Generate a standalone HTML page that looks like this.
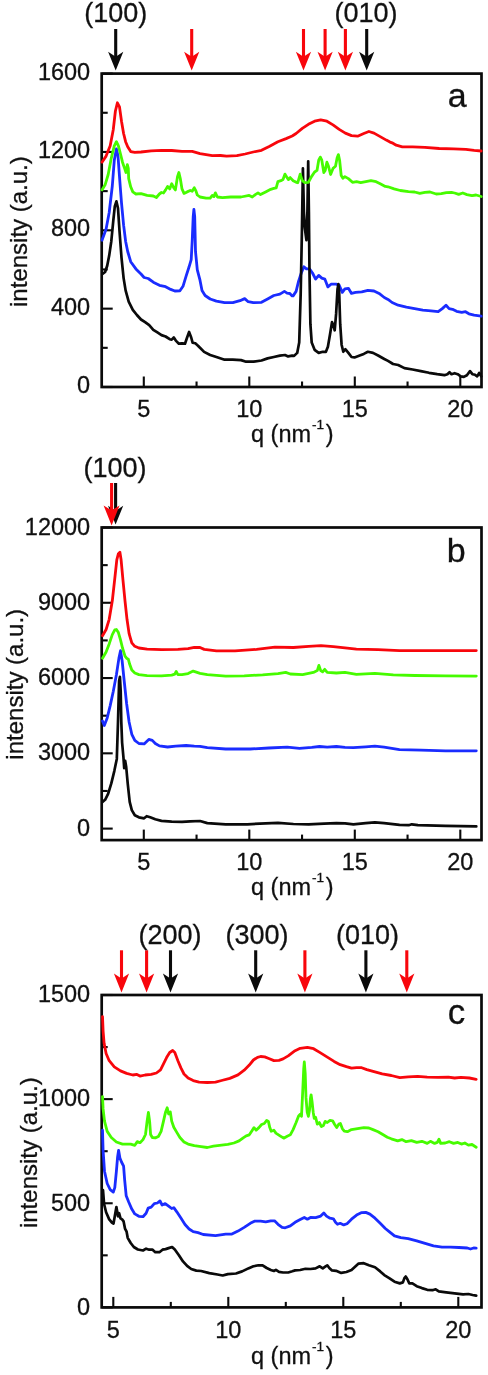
<!DOCTYPE html>
<html><head><meta charset="utf-8"><title>Figure</title>
<style>html,body{margin:0;padding:0;background:#fff}svg{display:block}text{font-family:"Liberation Sans",sans-serif}</style></head><body>
<svg width="488" height="1375" viewBox="0 0 488 1375">
<rect width="488" height="1375" fill="#ffffff"/>
<line x1="143.8" y1="387.0" x2="143.8" y2="376.5" stroke="#0a0a0a" stroke-width="2.1"/>
<text x="143.8" y="416.6" font-size="23.5" text-anchor="middle"  fill="#111" stroke="#111" stroke-width="0.3" >5</text>
<line x1="249.3" y1="387.0" x2="249.3" y2="376.5" stroke="#0a0a0a" stroke-width="2.1"/>
<text x="249.3" y="416.6" font-size="23.5" text-anchor="middle"  fill="#111" stroke="#111" stroke-width="0.3" >10</text>
<line x1="354.8" y1="387.0" x2="354.8" y2="376.5" stroke="#0a0a0a" stroke-width="2.1"/>
<text x="354.8" y="416.6" font-size="23.5" text-anchor="middle"  fill="#111" stroke="#111" stroke-width="0.3" >15</text>
<line x1="460.30000000000007" y1="387.0" x2="460.30000000000007" y2="376.5" stroke="#0a0a0a" stroke-width="2.1"/>
<text x="460.30000000000007" y="416.6" font-size="23.5" text-anchor="middle"  fill="#111" stroke="#111" stroke-width="0.3" >20</text>
<line x1="196.55" y1="387.0" x2="196.55" y2="381.5" stroke="#0a0a0a" stroke-width="2.1"/>
<line x1="302.05" y1="387.0" x2="302.05" y2="381.5" stroke="#0a0a0a" stroke-width="2.1"/>
<line x1="407.55000000000007" y1="387.0" x2="407.55000000000007" y2="381.5" stroke="#0a0a0a" stroke-width="2.1"/>
<line x1="101.7" y1="387.0" x2="112.7" y2="387.0" stroke="#0a0a0a" stroke-width="2.1"/>
<text x="90.2" y="393.1" font-size="23.5" text-anchor="end"  fill="#111" stroke="#111" stroke-width="0.3" >0</text>
<line x1="101.7" y1="308.65" x2="112.7" y2="308.65" stroke="#0a0a0a" stroke-width="2.1"/>
<text x="90.2" y="314.75" font-size="23.5" text-anchor="end"  fill="#111" stroke="#111" stroke-width="0.3" >400</text>
<line x1="101.7" y1="230.3" x2="112.7" y2="230.3" stroke="#0a0a0a" stroke-width="2.1"/>
<text x="90.2" y="236.4" font-size="23.5" text-anchor="end"  fill="#111" stroke="#111" stroke-width="0.3" >800</text>
<line x1="101.7" y1="151.95" x2="112.7" y2="151.95" stroke="#0a0a0a" stroke-width="2.1"/>
<text x="90.2" y="158.04999999999998" font-size="23.5" text-anchor="end"  fill="#111" stroke="#111" stroke-width="0.3" >1200</text>
<line x1="101.7" y1="73.60000000000002" x2="112.7" y2="73.60000000000002" stroke="#0a0a0a" stroke-width="2.1"/>
<text x="90.2" y="79.70000000000002" font-size="23.5" text-anchor="end"  fill="#111" stroke="#111" stroke-width="0.3" >1600</text>
<line x1="101.7" y1="347.825" x2="107.7" y2="347.825" stroke="#0a0a0a" stroke-width="2.1"/>
<line x1="101.7" y1="269.475" x2="107.7" y2="269.475" stroke="#0a0a0a" stroke-width="2.1"/>
<line x1="101.7" y1="191.125" x2="107.7" y2="191.125" stroke="#0a0a0a" stroke-width="2.1"/>
<line x1="101.7" y1="112.77500000000003" x2="107.7" y2="112.77500000000003" stroke="#0a0a0a" stroke-width="2.1"/>
<text x="251" y="441.8" font-size="23.5"  fill="#111" stroke="#111" stroke-width="0.3">q (nm<tspan font-size="13.6" dy="-13.3" dx="1">-1</tspan><tspan dy="13.3" dx="1.5">)</tspan></text>
<text transform="translate(27.3,231.6) rotate(-90)" font-size="24" text-anchor="middle"  fill="#111" stroke="#111" stroke-width="0.3">intensity (a.u.)</text>
<rect x="101.7" y="73.6" width="379.8" height="313.4" fill="none" stroke="#0a0a0a" stroke-width="2.7"/>
<polyline points="102.0,240.2 106.1,228.9 109.2,212.5 112.3,186.0 114.3,160.2 116.4,148.9 118.0,156.0 119.5,176.6 120.5,190.0 121.5,202.8 123.6,225.2 125.6,241.2 127.7,251.5 130.7,261.7 135.9,268.9 141.0,274.0 144.1,277.5 148.2,278.5 153.3,282.2 159.4,285.3 165.6,286.7 170.7,289.4 174.8,291.0 179.9,290.8 183.0,286.3 186.1,276.1 189.1,266.8 191.2,259.7 192.2,241.2 193.2,216.6 193.9,209.5 194.7,216.6 195.5,251.5 197.3,269.9 200.0,280.2 202.0,290.4 205.1,295.5 210.2,299.0 216.4,301.1 224.6,302.7 232.8,302.7 240.0,300.7 244.7,298.6 248.2,301.7 253.3,302.7 261.5,302.3 267.6,299.0 273.8,295.5 279.9,294.1 284.4,291.4 287.1,293.1 289.8,293.5 292.2,295.9 293.1,295.9 296.1,291.4 298.6,281.1 301.3,273.0 303.9,266.8 306.4,268.9 309.5,268.9 312.5,273.0 315.6,279.1 318.7,275.4 321.8,278.1 324.8,279.1 327.9,286.9 331.0,284.2 336.1,284.2 339.2,285.2 342.3,292.4 344.9,288.9 348.4,288.3 351.5,293.4 355.6,292.4 361.7,291.8 367.9,290.4 374.0,291.0 379.1,293.4 384.3,297.5 388.0,299.4 392.1,302.5 398.2,305.2 406.4,307.2 414.6,308.6 422.8,310.1 431.0,310.9 438.2,311.7 442.3,308.6 446.0,305.2 449.1,308.6 452.5,309.3 456.6,311.3 461.8,312.3 465.5,311.7 468.9,313.8 474.1,315.2 481.2,316.2" fill="none" stroke="#1a2cff" stroke-width="2.8" stroke-linejoin="round" stroke-linecap="round"/>
<polyline points="102.5,274.0 105.1,272.0 107.2,265.8 109.2,255.6 111.3,241.2 113.3,220.7 114.8,206.4 116.4,201.3 118.0,208.4 119.5,231.0 121.5,257.6 123.6,278.1 125.6,290.4 128.7,301.7 132.8,309.9 136.9,315.0 141.0,319.5 145.1,322.2 149.2,325.2 153.3,329.8 157.4,332.4 161.5,335.1 165.6,336.5 169.7,339.2 171.7,339.6 173.8,337.5 175.8,340.6 178.9,343.7 182.0,343.3 185.0,343.7 187.1,337.5 189.1,332.0 191.2,337.5 192.6,342.7 195.3,343.3 198.0,345.7 200.0,347.8 204.1,351.9 210.2,355.0 216.4,357.0 224.6,359.7 232.8,359.7 241.0,360.1 246.1,361.7 253.3,361.7 261.5,360.5 267.6,358.4 273.8,357.0 279.9,355.6 285.0,355.0 288.1,356.4 292.2,355.6 294.1,355.9 297.2,352.9 299.2,342.6 300.7,293.4 301.9,232.0 302.9,168.4 303.9,211.5 304.8,227.9 306.4,240.2 307.4,211.5 308.2,161.3 308.9,211.5 309.5,273.0 310.4,324.2 311.7,342.6 314.6,349.8 318.7,352.9 322.8,351.8 325.9,351.8 327.9,346.7 330.0,334.4 332.0,322.1 333.4,325.2 334.7,330.3 336.1,313.9 337.5,289.3 338.4,284.2 339.2,293.4 340.2,324.2 341.6,344.7 343.3,351.8 345.3,349.2 348.4,352.9 351.5,357.0 354.5,357.4 359.7,355.5 363.8,353.9 367.9,351.8 373.0,352.9 378.1,355.5 384.3,359.0 388.0,360.9 393.1,364.0 398.2,365.0 404.4,368.1 412.6,369.5 420.8,371.1 429.0,372.8 437.2,374.2 444.4,375.2 447.4,374.2 449.5,372.2 451.5,374.2 454.6,373.2 457.7,374.2 460.7,376.3 463.8,376.9 466.9,375.2 470.0,371.1 472.4,374.2 475.1,374.8 477.2,376.3 479.2,372.8 481.2,376.3" fill="none" stroke="#0a0a0a" stroke-width="2.7" stroke-linejoin="round" stroke-linecap="round"/>
<polyline points="102.0,189.9 105.1,184.8 108.2,174.5 111.3,158.1 114.3,145.8 116.4,141.7 118.4,145.8 120.5,154.0 122.5,162.2 124.6,168.4 126.0,172.5 127.3,164.7 128.3,168.4 128.7,178.6 130.7,186.8 132.8,191.9 135.9,194.0 141.0,193.6 147.1,195.4 153.3,196.0 156.4,197.5 159.4,194.0 161.5,192.5 163.5,193.0 165.6,189.9 167.6,186.4 169.7,188.9 171.7,183.7 173.8,187.8 175.4,189.9 177.5,176.6 178.9,172.5 180.3,178.6 182.0,188.9 184.0,193.4 187.1,191.9 190.2,190.5 192.2,191.3 194.3,187.8 195.9,190.9 197.3,195.0 200.0,197.0 206.1,198.1 210.2,198.1 212.3,195.4 213.9,196.6 215.4,192.9 217.4,197.0 222.5,197.7 230.7,197.0 241.0,197.0 249.2,195.4 252.3,197.0 255.3,194.6 258.0,192.9 260.5,194.6 265.6,191.9 270.7,189.3 273.8,188.4 276.2,187.8 277.9,181.7 280.9,180.7 283.0,179.6 285.0,174.1 287.1,177.6 288.5,179.6 290.2,177.6 293.2,180.7 296.3,182.3 297.8,182.7 300.2,174.1 302.3,180.7 304.8,182.7 308.4,182.3 311.5,176.6 314.6,172.0 317.0,170.4 318.7,160.2 320.3,157.1 321.8,160.2 323.8,172.5 325.2,170.4 326.9,162.2 328.5,166.3 330.6,174.5 333.0,168.4 335.5,166.3 337.1,158.1 338.4,154.6 339.6,160.2 341.2,175.5 342.9,178.2 344.9,176.6 348.4,178.6 352.5,182.3 356.6,181.7 360.7,182.7 365.8,181.7 370.9,180.7 376.1,181.7 380.2,183.7 385.3,186.4 388.0,186.8 394.1,188.9 400.3,190.5 408.5,191.6 414.6,192.0 419.8,193.4 424.9,192.4 430.0,192.0 436.2,194.0 441.3,193.6 446.4,192.6 451.5,192.4 454.6,193.0 458.7,194.4 462.8,193.0 466.9,194.6 472.0,195.7 476.1,195.0 481.2,196.5" fill="none" stroke="#46fb00" stroke-width="2.8" stroke-linejoin="round" stroke-linecap="round"/>
<polyline points="102.0,162.2 106.1,156.1 110.2,145.8 113.3,129.4 115.4,111.0 117.4,102.8 119.5,106.9 121.5,121.2 123.6,133.5 125.6,141.7 127.7,146.8 130.7,151.6 134.8,152.4 141.0,152.0 151.2,150.9 161.5,150.3 171.7,150.5 182.0,151.4 192.2,151.4 200.0,153.6 206.1,154.6 212.3,155.7 220.5,155.5 226.6,156.1 236.9,155.7 245.1,154.0 253.3,152.0 261.5,150.3 269.7,146.2 277.9,141.7 286.1,138.6 292.2,136.0 296.1,133.5 302.3,128.4 308.4,124.3 314.6,121.2 320.7,119.8 326.9,121.2 333.0,124.9 339.2,129.4 345.3,133.1 351.5,135.6 357.6,136.2 363.8,133.5 368.9,131.5 374.0,133.1 380.2,136.6 386.3,140.1 390.0,142.1 392.1,142.8 396.2,145.2 402.3,146.9 412.6,146.9 424.9,147.3 439.2,148.5 453.6,148.9 465.9,149.3 474.1,150.4 481.2,151.0" fill="none" stroke="#f8060c" stroke-width="2.8" stroke-linejoin="round" stroke-linecap="round"/>
<line x1="115.7" y1="29" x2="115.7" y2="57.8" stroke="#0a0a0a" stroke-width="3.1"/>
<path d="M115.7,70.6 L108.10000000000001,51.8 L115.7,56.8 L123.3,51.8 Z" fill="#0a0a0a"/>
<line x1="191.7" y1="29" x2="191.7" y2="57.8" stroke="#f8060c" stroke-width="3.1"/>
<path d="M191.7,70.6 L184.1,51.8 L191.7,56.8 L199.29999999999998,51.8 Z" fill="#f8060c"/>
<line x1="303.5" y1="29" x2="303.5" y2="57.8" stroke="#f8060c" stroke-width="3.1"/>
<path d="M303.5,70.6 L295.9,51.8 L303.5,56.8 L311.1,51.8 Z" fill="#f8060c"/>
<line x1="325.1" y1="29" x2="325.1" y2="57.8" stroke="#f8060c" stroke-width="3.1"/>
<path d="M325.1,70.6 L317.5,51.8 L325.1,56.8 L332.70000000000005,51.8 Z" fill="#f8060c"/>
<line x1="345.4" y1="29" x2="345.4" y2="57.8" stroke="#f8060c" stroke-width="3.1"/>
<path d="M345.4,70.6 L337.79999999999995,51.8 L345.4,56.8 L353.0,51.8 Z" fill="#f8060c"/>
<line x1="366.7" y1="29" x2="366.7" y2="57.8" stroke="#0a0a0a" stroke-width="3.1"/>
<path d="M366.7,70.6 L359.09999999999997,51.8 L366.7,56.8 L374.3,51.8 Z" fill="#0a0a0a"/>
<text x="115.7" y="21.8" font-size="27" text-anchor="middle"  fill="#111" stroke="#111" stroke-width="0.3" >(100)</text>
<text x="366" y="21.8" font-size="27" text-anchor="middle"  fill="#111" stroke="#111" stroke-width="0.3" >(010)</text>
<text x="447.8" y="107.3" font-size="34" text-anchor="start"  fill="#111" stroke="#111" stroke-width="0.3" >a</text>
<line x1="143.8" y1="840.1" x2="143.8" y2="829.6" stroke="#0a0a0a" stroke-width="2.1"/>
<text x="143.8" y="870.1" font-size="23.5" text-anchor="middle"  fill="#111" stroke="#111" stroke-width="0.3" >5</text>
<line x1="249.3" y1="840.1" x2="249.3" y2="829.6" stroke="#0a0a0a" stroke-width="2.1"/>
<text x="249.3" y="870.1" font-size="23.5" text-anchor="middle"  fill="#111" stroke="#111" stroke-width="0.3" >10</text>
<line x1="354.8" y1="840.1" x2="354.8" y2="829.6" stroke="#0a0a0a" stroke-width="2.1"/>
<text x="354.8" y="870.1" font-size="23.5" text-anchor="middle"  fill="#111" stroke="#111" stroke-width="0.3" >15</text>
<line x1="460.30000000000007" y1="840.1" x2="460.30000000000007" y2="829.6" stroke="#0a0a0a" stroke-width="2.1"/>
<text x="460.30000000000007" y="870.1" font-size="23.5" text-anchor="middle"  fill="#111" stroke="#111" stroke-width="0.3" >20</text>
<line x1="196.55" y1="840.1" x2="196.55" y2="834.6" stroke="#0a0a0a" stroke-width="2.1"/>
<line x1="302.05" y1="840.1" x2="302.05" y2="834.6" stroke="#0a0a0a" stroke-width="2.1"/>
<line x1="407.55000000000007" y1="840.1" x2="407.55000000000007" y2="834.6" stroke="#0a0a0a" stroke-width="2.1"/>
<line x1="101.7" y1="828.6" x2="112.7" y2="828.6" stroke="#0a0a0a" stroke-width="2.1"/>
<text x="90.2" y="835.6" font-size="23.5" text-anchor="end"  fill="#111" stroke="#111" stroke-width="0.3" >0</text>
<line x1="101.7" y1="753.325" x2="112.7" y2="753.325" stroke="#0a0a0a" stroke-width="2.1"/>
<text x="90.2" y="760.325" font-size="23.5" text-anchor="end"  fill="#111" stroke="#111" stroke-width="0.3" >3000</text>
<line x1="101.7" y1="678.05" x2="112.7" y2="678.05" stroke="#0a0a0a" stroke-width="2.1"/>
<text x="90.2" y="685.05" font-size="23.5" text-anchor="end"  fill="#111" stroke="#111" stroke-width="0.3" >6000</text>
<line x1="101.7" y1="602.7750000000001" x2="112.7" y2="602.7750000000001" stroke="#0a0a0a" stroke-width="2.1"/>
<text x="90.2" y="609.7750000000001" font-size="23.5" text-anchor="end"  fill="#111" stroke="#111" stroke-width="0.3" >9000</text>
<line x1="101.7" y1="527.5" x2="112.7" y2="527.5" stroke="#0a0a0a" stroke-width="2.1"/>
<text x="90.2" y="534.5" font-size="23.5" text-anchor="end"  fill="#111" stroke="#111" stroke-width="0.3" >12000</text>
<line x1="101.7" y1="790.9625" x2="107.7" y2="790.9625" stroke="#0a0a0a" stroke-width="2.1"/>
<line x1="101.7" y1="715.6875" x2="107.7" y2="715.6875" stroke="#0a0a0a" stroke-width="2.1"/>
<line x1="101.7" y1="640.4125" x2="107.7" y2="640.4125" stroke="#0a0a0a" stroke-width="2.1"/>
<line x1="101.7" y1="565.1375" x2="107.7" y2="565.1375" stroke="#0a0a0a" stroke-width="2.1"/>
<text x="251" y="895.1" font-size="23.5"  fill="#111" stroke="#111" stroke-width="0.3">q (nm<tspan font-size="13.6" dy="-13.3" dx="1">-1</tspan><tspan dy="13.3" dx="1.5">)</tspan></text>
<text transform="translate(22.7,684.3) rotate(-90)" font-size="24" text-anchor="middle"  fill="#111" stroke="#111" stroke-width="0.3">intensity (a.u.)</text>
<rect x="101.7" y="527.5" width="379.8" height="312.6" fill="none" stroke="#0a0a0a" stroke-width="2.7"/>
<polyline points="102.5,721.0 104.3,725.5 107.2,717.9 110.2,705.6 113.3,691.2 116.4,674.8 118.9,658.4 120.5,650.7 122.1,660.5 124.2,681.0 126.6,703.5 129.1,722.0 131.8,734.3 134.8,740.4 138.9,743.5 144.1,743.9 146.7,741.4 148.8,739.4 152.3,740.4 155.3,743.5 159.4,745.9 167.6,747.0 175.8,746.1 186.1,745.5 194.3,746.1 200.0,746.3 207.3,747.7 225.7,749.0 250.3,749.0 268.8,748.0 287.2,747.1 299.5,748.4 311.8,747.4 319.5,746.5 327.2,747.1 336.4,746.5 345.0,747.4 353.4,747.7 365.7,746.8 374.9,746.2 384.1,747.1 399.5,749.6 421.0,750.2 445.6,750.8 476.3,750.8" fill="none" stroke="#1a2cff" stroke-width="2.8" stroke-linejoin="round" stroke-linecap="round"/>
<polyline points="102.5,801.9 105.1,799.8 108.2,793.7 111.3,783.4 114.3,771.1 116.8,758.9 118.0,722.0 119.1,681.0 119.9,676.9 120.7,691.2 121.3,722.0 122.1,742.5 123.4,756.8 124.2,768.1 125.2,760.9 126.2,767.0 127.7,783.4 129.7,801.9 131.8,810.1 134.8,815.2 138.9,817.3 144.1,818.3 146.7,816.2 150.2,817.3 155.3,819.3 161.5,820.9 171.7,821.6 182.0,821.8 190.2,821.4 200.0,821.0 207.3,823.1 225.7,824.3 247.3,824.3 265.7,823.4 278.0,822.8 293.4,824.0 308.7,824.3 324.1,823.7 336.4,823.1 345.0,823.3 353.4,824.3 365.7,823.1 374.9,822.4 384.1,823.1 399.5,824.9 408.7,825.2 411.8,824.3 417.9,825.2 445.6,825.8 476.3,826.4" fill="none" stroke="#0a0a0a" stroke-width="2.7" stroke-linejoin="round" stroke-linecap="round"/>
<polyline points="102.5,658.2 106.1,652.0 109.2,643.9 112.3,634.6 114.8,629.9 116.4,629.5 118.4,632.6 120.5,639.8 122.5,648.0 125.0,656.1 126.6,658.2 128.3,659.2 129.7,664.3 131.8,670.1 134.8,673.0 138.9,674.6 147.1,675.6 161.5,675.8 171.7,675.2 174.8,674.2 176.2,671.5 177.9,674.6 182.0,674.6 188.1,673.6 193.2,671.1 196.3,672.1 200.0,673.4 207.3,674.6 225.7,676.1 244.2,675.8 262.6,674.9 278.0,673.7 285.7,672.4 290.3,674.0 302.6,674.6 313.4,672.4 317.3,670.6 318.9,665.4 320.7,670.6 322.6,671.8 324.7,669.3 327.2,672.4 336.4,673.0 345.0,672.4 356.4,674.3 374.9,673.3 393.3,674.9 414.9,675.5 445.6,675.8 476.3,676.1" fill="none" stroke="#46fb00" stroke-width="2.8" stroke-linejoin="round" stroke-linecap="round"/>
<polyline points="102.5,635.7 106.1,629.5 109.2,619.3 112.3,600.8 114.8,578.3 116.8,559.8 118.4,553.7 119.9,552.3 121.1,559.8 123.0,580.3 125.0,600.8 127.0,619.3 129.1,633.6 131.8,642.8 134.8,646.3 138.9,648.0 147.1,649.2 161.5,649.6 177.9,649.4 188.1,648.6 194.3,647.3 200.0,647.5 204.2,649.4 216.5,650.9 235.0,650.9 256.5,649.4 274.9,647.2 293.4,647.5 308.7,646.3 321.0,645.7 333.3,646.6 345.0,647.8 356.4,649.1 378.0,649.7 399.5,650.6 430.2,650.6 476.3,650.6" fill="none" stroke="#f8060c" stroke-width="2.8" stroke-linejoin="round" stroke-linecap="round"/>
<line x1="115.6" y1="483" x2="115.6" y2="511.8" stroke="#0a0a0a" stroke-width="3.1"/>
<path d="M115.6,524.6 L108.0,505.8 L115.6,510.8 L123.19999999999999,505.8 Z" fill="#0a0a0a"/>
<line x1="111.6" y1="483" x2="111.6" y2="511.40000000000003" stroke="#f8060c" stroke-width="3.1"/>
<path d="M111.6,525.6 L103.6,505.40000000000003 L111.6,510.40000000000003 L119.6,505.40000000000003 Z" fill="#f8060c"/>
<text x="115" y="476.5" font-size="27" text-anchor="middle"  fill="#111" stroke="#111" stroke-width="0.3" >(100)</text>
<text x="446.8" y="561.8" font-size="34" text-anchor="start"  fill="#111" stroke="#111" stroke-width="0.3" >b</text>
<line x1="113.3" y1="1307.4" x2="113.3" y2="1296.9" stroke="#0a0a0a" stroke-width="2.1"/>
<text x="113.3" y="1338.4" font-size="23.5" text-anchor="middle"  fill="#111" stroke="#111" stroke-width="0.3" >5</text>
<line x1="228.3" y1="1307.4" x2="228.3" y2="1296.9" stroke="#0a0a0a" stroke-width="2.1"/>
<text x="228.3" y="1338.4" font-size="23.5" text-anchor="middle"  fill="#111" stroke="#111" stroke-width="0.3" >10</text>
<line x1="343.3" y1="1307.4" x2="343.3" y2="1296.9" stroke="#0a0a0a" stroke-width="2.1"/>
<text x="343.3" y="1338.4" font-size="23.5" text-anchor="middle"  fill="#111" stroke="#111" stroke-width="0.3" >15</text>
<line x1="458.3" y1="1307.4" x2="458.3" y2="1296.9" stroke="#0a0a0a" stroke-width="2.1"/>
<text x="458.3" y="1338.4" font-size="23.5" text-anchor="middle"  fill="#111" stroke="#111" stroke-width="0.3" >20</text>
<line x1="170.8" y1="1307.4" x2="170.8" y2="1301.9" stroke="#0a0a0a" stroke-width="2.1"/>
<line x1="285.8" y1="1307.4" x2="285.8" y2="1301.9" stroke="#0a0a0a" stroke-width="2.1"/>
<line x1="400.8" y1="1307.4" x2="400.8" y2="1301.9" stroke="#0a0a0a" stroke-width="2.1"/>
<line x1="101.7" y1="1307.4" x2="112.7" y2="1307.4" stroke="#0a0a0a" stroke-width="2.1"/>
<text x="90.2" y="1314.7" font-size="23.5" text-anchor="end"  fill="#111" stroke="#111" stroke-width="0.3" >0</text>
<line x1="101.7" y1="1203.2666666666667" x2="112.7" y2="1203.2666666666667" stroke="#0a0a0a" stroke-width="2.1"/>
<text x="90.2" y="1210.5666666666666" font-size="23.5" text-anchor="end"  fill="#111" stroke="#111" stroke-width="0.3" >500</text>
<line x1="101.7" y1="1099.1333333333334" x2="112.7" y2="1099.1333333333334" stroke="#0a0a0a" stroke-width="2.1"/>
<text x="90.2" y="1106.4333333333334" font-size="23.5" text-anchor="end"  fill="#111" stroke="#111" stroke-width="0.3" >1000</text>
<line x1="101.7" y1="995.0" x2="112.7" y2="995.0" stroke="#0a0a0a" stroke-width="2.1"/>
<text x="90.2" y="1002.3" font-size="23.5" text-anchor="end"  fill="#111" stroke="#111" stroke-width="0.3" >1500</text>
<line x1="101.7" y1="1255.3333333333335" x2="107.7" y2="1255.3333333333335" stroke="#0a0a0a" stroke-width="2.1"/>
<line x1="101.7" y1="1151.2" x2="107.7" y2="1151.2" stroke="#0a0a0a" stroke-width="2.1"/>
<line x1="101.7" y1="1047.0666666666666" x2="107.7" y2="1047.0666666666666" stroke="#0a0a0a" stroke-width="2.1"/>
<text x="251" y="1364.0" font-size="23.5"  fill="#111" stroke="#111" stroke-width="0.3">q (nm<tspan font-size="13.6" dy="-13.3" dx="1">-1</tspan><tspan dy="13.3" dx="1.5">)</tspan></text>
<text transform="translate(36.8,1152.7) rotate(-90)" font-size="24" text-anchor="middle"  fill="#111" stroke="#111" stroke-width="0.3">intensity (a.u.)</text>
<rect x="101.7" y="995.0" width="379.8" height="312.4000000000001" fill="none" stroke="#0a0a0a" stroke-width="2.7"/>
<polyline points="102.5,1130.2 103.1,1150.7 104.5,1171.2 107.2,1183.5 110.2,1189.7 113.3,1192.1 114.8,1187.6 116.4,1171.2 117.6,1156.9 118.6,1150.3 119.9,1157.9 121.5,1162.0 123.6,1166.1 124.6,1179.4 126.2,1195.8 128.7,1202.0 131.8,1209.1 134.8,1213.9 138.9,1216.3 143.0,1216.7 146.1,1213.2 148.2,1208.1 151.2,1207.1 154.3,1203.6 157.4,1203.0 160.0,1200.9 162.1,1205.0 165.2,1203.6 168.6,1206.1 171.7,1208.5 173.8,1207.7 176.8,1211.8 180.9,1218.0 185.0,1224.5 189.1,1229.0 193.2,1231.7 198.0,1232.6 203.2,1234.5 215.5,1235.6 225.7,1234.1 231.9,1234.1 238.0,1231.1 244.2,1227.4 250.3,1223.3 254.4,1221.2 260.6,1221.2 265.7,1221.8 270.8,1220.8 274.5,1220.8 278.0,1224.3 282.1,1227.4 285.2,1227.8 290.3,1225.9 295.1,1222.3 300.2,1219.6 304.3,1217.5 307.4,1219.2 310.5,1217.5 315.6,1217.7 320.7,1216.1 323.8,1213.0 326.5,1216.1 330.0,1218.2 333.4,1218.8 335.5,1222.3 337.5,1224.3 340.2,1223.3 343.7,1224.9 347.0,1223.7 351.5,1219.2 356.6,1215.1 361.7,1212.6 365.8,1212.4 369.9,1214.1 375.0,1218.2 380.2,1223.3 385.3,1228.5 389.2,1231.7 394.5,1235.9 400.8,1237.6 408.2,1238.7 416.7,1240.8 425.1,1243.3 433.5,1245.9 442.0,1247.1 450.4,1247.1 458.9,1247.5 467.3,1248.0 470.5,1249.0 473.6,1248.0 476.2,1248.2" fill="none" stroke="#1a2cff" stroke-width="2.8" stroke-linejoin="round" stroke-linecap="round"/>
<polyline points="103.0,1190.0 104.1,1204.0 106.1,1212.2 109.2,1219.4 111.9,1222.5 113.5,1223.5 114.8,1216.3 116.4,1207.1 118.0,1216.3 119.1,1213.2 120.5,1218.4 122.1,1219.4 123.6,1221.4 125.0,1228.6 126.6,1231.7 127.7,1237.8 130.7,1243.0 133.8,1247.0 137.9,1249.5 143.0,1250.5 146.1,1248.7 149.2,1249.7 152.3,1249.5 155.3,1252.2 159.4,1252.2 162.5,1249.7 165.6,1249.1 168.6,1248.1 172.1,1247.0 174.8,1249.5 178.9,1255.2 183.0,1261.4 187.1,1265.9 191.2,1269.0 196.3,1270.6 201.1,1271.0 209.3,1273.1 217.5,1274.5 222.7,1275.5 227.8,1274.1 236.0,1273.5 242.1,1271.4 248.3,1268.4 253.4,1266.3 258.5,1265.3 262.6,1265.3 266.7,1268.0 270.8,1270.0 273.9,1271.0 275.9,1269.8 279.0,1271.8 283.1,1272.5 288.2,1272.5 292.3,1271.3 295.1,1270.4 300.2,1270.0 305.4,1268.8 310.5,1269.0 315.6,1268.4 319.7,1266.3 322.8,1268.4 325.2,1266.7 327.3,1265.3 329.3,1268.0 332.0,1270.4 336.1,1270.8 341.2,1272.9 346.4,1272.0 351.5,1270.0 355.6,1266.3 358.6,1263.6 363.8,1263.2 368.9,1265.3 375.0,1267.3 380.2,1271.4 384.3,1275.1 389.2,1278.1 394.5,1281.7 399.8,1283.4 402.9,1282.4 404.4,1278.1 405.7,1276.5 407.4,1279.2 409.3,1283.4 412.4,1283.4 416.7,1286.2 421.9,1288.1 427.2,1289.8 432.5,1290.2 435.7,1289.3 438.8,1291.4 446.2,1292.3 454.6,1293.3 463.1,1294.4 468.4,1294.0 472.6,1295.0 476.2,1295.7" fill="none" stroke="#0a0a0a" stroke-width="2.7" stroke-linejoin="round" stroke-linecap="round"/>
<polyline points="102.5,1096.6 103.1,1108.9 104.5,1121.1 107.2,1131.4 111.3,1137.5 116.4,1142.0 122.5,1144.1 130.7,1144.1 134.8,1145.3 137.3,1141.6 140.0,1142.7 143.0,1139.6 145.5,1134.5 147.1,1121.1 148.4,1112.5 149.6,1121.1 150.6,1134.5 152.3,1137.5 155.3,1137.9 158.4,1136.5 161.1,1131.4 163.5,1121.1 165.6,1111.9 167.2,1107.8 168.6,1114.0 170.3,1111.9 171.7,1121.1 173.8,1127.3 176.8,1132.4 179.9,1137.5 184.0,1142.0 188.1,1144.1 194.3,1145.7 201.1,1146.6 207.3,1147.5 213.4,1146.2 219.6,1145.4 227.8,1144.4 233.9,1143.0 239.1,1140.9 243.2,1137.8 246.2,1135.8 249.3,1134.8 252.0,1130.7 254.0,1127.6 256.1,1130.2 258.9,1127.6 261.6,1124.5 264.3,1123.5 266.7,1120.4 268.4,1121.4 269.8,1127.6 271.2,1131.3 273.9,1130.2 275.9,1133.1 280.0,1135.8 283.7,1138.2 287.2,1136.2 290.3,1134.8 293.1,1129.6 296.1,1122.5 298.6,1115.9 300.2,1114.3 301.5,1116.3 302.7,1091.7 303.7,1069.2 304.3,1062.0 305.2,1073.3 306.0,1097.9 307.2,1112.2 308.4,1116.3 309.5,1110.2 310.5,1097.9 311.1,1094.8 312.1,1102.0 313.2,1112.2 314.2,1118.4 315.6,1117.3 317.3,1124.1 319.3,1122.5 321.4,1126.6 323.4,1125.5 325.2,1121.4 327.3,1122.5 330.0,1120.4 332.6,1120.8 334.7,1124.5 336.7,1127.6 338.8,1124.1 340.4,1123.5 342.3,1128.6 344.3,1131.1 347.4,1131.7 351.5,1129.6 357.6,1128.6 363.8,1127.6 368.9,1128.0 373.0,1129.6 378.1,1131.7 383.2,1134.8 387.3,1137.2 391.3,1138.8 397.7,1140.9 401.9,1139.6 406.1,1141.7 411.4,1140.7 416.7,1142.4 421.9,1141.3 427.2,1143.4 430.4,1141.3 434.6,1143.4 437.3,1142.4 439.0,1139.2 440.7,1143.4 445.2,1143.0 449.4,1141.7 453.6,1143.4 457.8,1142.4 461.4,1144.1 464.8,1143.0 468.4,1145.1 472.0,1144.5 476.2,1147.2" fill="none" stroke="#46fb00" stroke-width="2.8" stroke-linejoin="round" stroke-linecap="round"/>
<polyline points="102.5,1016.6 103.1,1031.0 104.1,1043.3 106.1,1053.5 109.2,1060.7 114.3,1066.8 120.5,1070.9 126.6,1073.4 132.8,1075.0 136.9,1074.4 140.0,1076.1 145.1,1075.0 151.2,1074.4 156.4,1073.0 160.5,1069.9 163.5,1063.8 166.6,1057.6 169.7,1052.5 172.7,1050.5 174.8,1052.5 177.9,1060.7 180.9,1067.9 184.0,1074.0 188.1,1078.1 193.2,1080.6 199.1,1082.1 207.3,1082.5 215.5,1082.1 221.6,1080.5 229.8,1078.4 238.0,1074.9 244.2,1070.2 249.3,1065.1 253.4,1060.0 257.5,1057.3 260.6,1056.5 264.7,1056.9 268.8,1058.5 273.9,1060.6 279.0,1060.4 283.1,1058.9 288.2,1055.9 295.1,1050.7 300.2,1048.3 307.4,1047.3 313.6,1048.7 319.7,1052.4 326.9,1056.9 334.1,1061.4 340.2,1064.7 346.4,1066.7 351.5,1068.2 356.6,1067.7 361.7,1067.7 366.8,1069.6 374.0,1071.6 382.2,1073.9 391.3,1075.5 399.8,1077.6 408.2,1076.9 417.7,1076.3 427.2,1077.1 437.8,1077.4 448.3,1077.1 454.6,1078.0 461.0,1077.4 469.4,1078.0 476.2,1079.3" fill="none" stroke="#f8060c" stroke-width="2.8" stroke-linejoin="round" stroke-linecap="round"/>
<line x1="121.5" y1="950.3" x2="121.5" y2="979.6" stroke="#f8060c" stroke-width="3.1"/>
<path d="M121.5,992.4 L113.9,973.6 L121.5,978.6 L129.1,973.6 Z" fill="#f8060c"/>
<line x1="146.6" y1="950.3" x2="146.6" y2="979.6" stroke="#f8060c" stroke-width="3.1"/>
<path d="M146.6,992.4 L139.0,973.6 L146.6,978.6 L154.2,973.6 Z" fill="#f8060c"/>
<line x1="170.5" y1="950.3" x2="170.5" y2="979.6" stroke="#0a0a0a" stroke-width="3.1"/>
<path d="M170.5,992.4 L162.9,973.6 L170.5,978.6 L178.1,973.6 Z" fill="#0a0a0a"/>
<line x1="255.7" y1="950.3" x2="255.7" y2="979.6" stroke="#0a0a0a" stroke-width="3.1"/>
<path d="M255.7,992.4 L248.1,973.6 L255.7,978.6 L263.3,973.6 Z" fill="#0a0a0a"/>
<line x1="304.9" y1="950.3" x2="304.9" y2="979.6" stroke="#f8060c" stroke-width="3.1"/>
<path d="M304.9,992.4 L297.29999999999995,973.6 L304.9,978.6 L312.5,973.6 Z" fill="#f8060c"/>
<line x1="365.9" y1="950.3" x2="365.9" y2="979.6" stroke="#0a0a0a" stroke-width="3.1"/>
<path d="M365.9,992.4 L358.29999999999995,973.6 L365.9,978.6 L373.5,973.6 Z" fill="#0a0a0a"/>
<line x1="406.8" y1="950.3" x2="406.8" y2="979.6" stroke="#f8060c" stroke-width="3.1"/>
<path d="M406.8,992.4 L399.2,973.6 L406.8,978.6 L414.40000000000003,973.6 Z" fill="#f8060c"/>
<text x="170" y="943.5" font-size="27" text-anchor="middle"  fill="#111" stroke="#111" stroke-width="0.3" >(200)</text>
<text x="257" y="943.5" font-size="27" text-anchor="middle"  fill="#111" stroke="#111" stroke-width="0.3" >(300)</text>
<text x="367.6" y="943.5" font-size="27" text-anchor="middle"  fill="#111" stroke="#111" stroke-width="0.3" >(010)</text>
<text x="447.8" y="1024.3" font-size="35" text-anchor="start"  fill="#111" stroke="#111" stroke-width="0.3" >c</text>
</svg></body></html>
